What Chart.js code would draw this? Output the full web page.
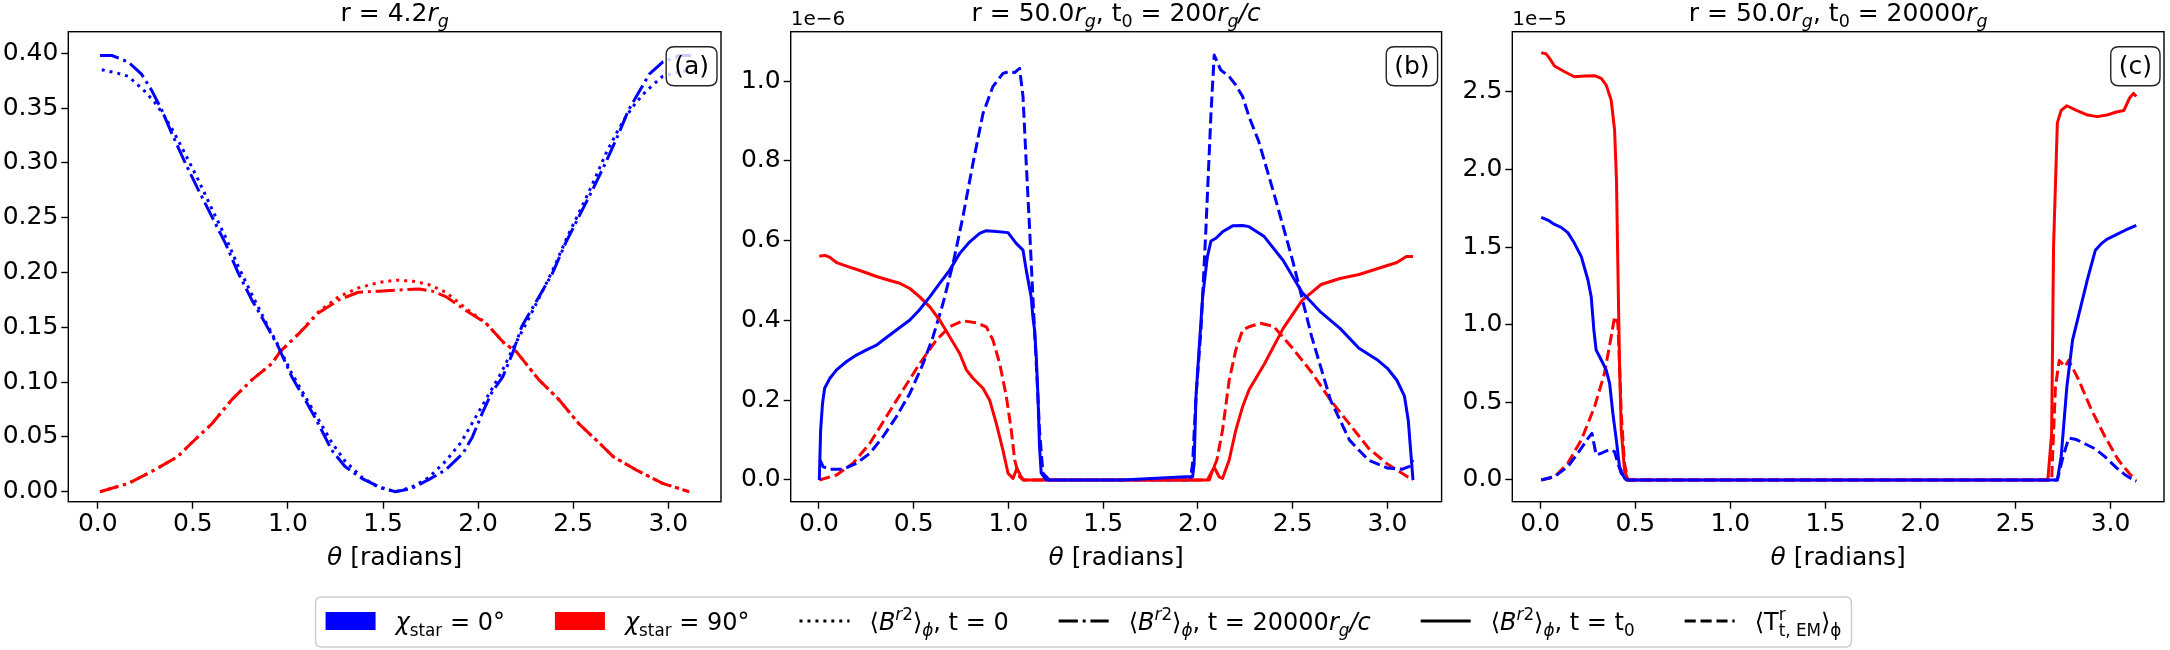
<!DOCTYPE html>
<html><head><meta charset="utf-8">
<script src="https://cdn.jsdelivr.net/npm/chart.js@4.4.1/dist/chart.umd.min.js"></script>
<style>
html,body{margin:0;padding:0;background:#fff;}
#fig{position:relative;width:2170px;height:650px;background:#fff;overflow:hidden}
#fig canvas{position:absolute;left:0;top:0;width:2170px;height:650px}
</style></head><body><div id="fig">
<canvas id="ca" width="2170" height="650"></canvas>
<canvas id="cb" width="2170" height="650"></canvas>
<canvas id="cc" width="2170" height="650"></canvas>
</div>
<script>
// ---------------- DATA ----------------
const xTicks = [0.0, 0.5, 1.0, 1.5, 2.0, 2.5, 3.0];
const aYTicks = [0.00, 0.05, 0.10, 0.15, 0.20, 0.25, 0.30, 0.35, 0.40];
const bYTicks = [0.0, 0.2, 0.4, 0.6, 0.8, 1.0];
const cYTicks = [0.0, 0.5, 1.0, 1.5, 2.0, 2.5];

// Panel (a): r = 4.2 r_g
const aBlueDotX = [0.021,0.10,0.161,0.249,0.30,0.35,0.40,0.46,0.53,0.60,0.67,0.74,0.81,0.88,0.95,1.02,1.09,1.16,1.23,1.30,1.39,1.477,1.565,1.65,1.74,1.83,1.91,1.98,2.05,2.12,2.19,2.26,2.33,2.40,2.47,2.54,2.61,2.67,2.73,2.78,2.83,2.88,2.97,3.03,3.12];
const aBlueDotY = [0.385,0.382,0.379,0.365,0.355,0.343,0.328,0.308,0.284,0.258,0.233,0.205,0.180,0.156,0.133,0.108,0.087,0.066,0.045,0.028,0.013,0.004,0.000,0.004,0.013,0.028,0.045,0.066,0.087,0.108,0.133,0.156,0.180,0.205,0.233,0.258,0.284,0.308,0.328,0.343,0.355,0.365,0.379,0.382,0.385];
const aBlueDdX = [0.012,0.074,0.161,0.23,0.284,0.337,0.389,0.46,0.53,0.60,0.67,0.74,0.81,0.88,0.95,1.02,1.09,1.16,1.23,1.30,1.39,1.477,1.565,1.65,1.74,1.83,1.92,1.97,2.02,2.07,2.13,2.18,2.23,2.31,2.39,2.46,2.53,2.60,2.67,2.74,2.79,2.85,2.90,2.97,3.06,3.12];
const aBlueDdY = [0.398,0.398,0.392,0.381,0.366,0.348,0.327,0.300,0.275,0.251,0.227,0.199,0.175,0.154,0.132,0.105,0.084,0.062,0.038,0.023,0.012,0.0046,0.000,0.003,0.011,0.020,0.035,0.050,0.071,0.090,0.105,0.126,0.151,0.175,0.199,0.227,0.251,0.275,0.300,0.327,0.348,0.366,0.381,0.392,0.398,0.398];
const aRedDotX = [0.012,0.161,0.30,0.42,0.49,0.60,0.705,0.81,0.916,0.96,1.056,1.16,1.267,1.37,1.48,1.57,1.66,1.74,1.83,1.93,2.04,2.14,2.20,2.32,2.425,2.53,2.64,2.71,2.83,2.97,3.11];
const aRedDotY = [0.000,0.0076,0.020,0.032,0.044,0.062,0.084,0.102,0.117,0.128,0.144,0.164,0.178,0.186,0.191,0.193,0.192,0.189,0.182,0.168,0.154,0.135,0.128,0.102,0.084,0.062,0.044,0.032,0.020,0.0076,0.000];
const aRedDdX = [0.012,0.161,0.30,0.42,0.49,0.60,0.705,0.81,0.916,0.96,1.056,1.16,1.267,1.37,1.477,1.58,1.69,1.76,1.83,1.93,2.04,2.14,2.20,2.32,2.425,2.53,2.64,2.71,2.83,2.97,3.11];
const aRedDdY = [0.000,0.0076,0.020,0.032,0.044,0.062,0.084,0.102,0.117,0.128,0.144,0.163,0.175,0.182,0.183,0.184,0.185,0.183,0.178,0.166,0.154,0.135,0.128,0.102,0.084,0.062,0.044,0.032,0.020,0.0076,0.000];

// Panel (b): r = 50 r_g, t0 = 200 r_g/c   (values in units of 1e-6)
const bBlueSolX = [0.002,0.009,0.019,0.03,0.058,0.093,0.146,0.198,0.251,0.304,0.339,0.409,0.48,0.53,0.585,0.637,0.69,0.743,0.796,0.848,0.883,0.936,0.998,1.041,1.077,1.094,1.12,1.129,1.138,1.147,1.156,1.164,1.173,1.20,1.60,1.937,1.972,1.98,1.99,2.007,2.025,2.05,2.069,2.095,2.13,2.183,2.236,2.27,2.35,2.45,2.55,2.65,2.75,2.85,2.95,3.00,3.05,3.09,3.11,3.125,3.135];
const bBlueSolY = [0,0.125,0.192,0.23,0.255,0.276,0.297,0.313,0.326,0.338,0.351,0.376,0.401,0.426,0.459,0.493,0.526,0.568,0.597,0.618,0.625,0.623,0.62,0.593,0.576,0.526,0.459,0.409,0.376,0.309,0.209,0.084,0.017,0,0,0.008,0.008,0.04,0.21,0.334,0.459,0.56,0.599,0.606,0.622,0.637,0.638,0.635,0.61,0.55,0.47,0.42,0.38,0.33,0.30,0.28,0.25,0.21,0.15,0.06,0];
const bBlueDashX = [0.002,0.005,0.023,0.058,0.128,0.198,0.269,0.339,0.409,0.48,0.55,0.602,0.655,0.708,0.76,0.813,0.866,0.918,0.971,1.006,1.033,1.059,1.077,1.094,1.112,1.129,1.147,1.164,1.182,1.217,1.60,1.96,1.972,1.99,2.016,2.042,2.069,2.086,2.12,2.165,2.20,2.236,2.27,2.32,2.40,2.50,2.60,2.70,2.80,2.90,3.00,3.08,3.12,3.135];
const bBlueDashY = [0.05,0.05,0.033,0.027,0.027,0.042,0.067,0.109,0.159,0.217,0.292,0.359,0.443,0.543,0.66,0.794,0.919,0.986,1.019,1.024,1.021,1.032,0.961,0.794,0.627,0.459,0.292,0.125,0.017,0,0,0,0.042,0.21,0.376,0.627,0.919,1.065,1.028,1.011,0.99,0.961,0.91,0.85,0.72,0.55,0.36,0.20,0.10,0.05,0.03,0.027,0.035,0.05];
const bRedSolX = [0.002,0.032,0.058,0.093,0.146,0.216,0.304,0.374,0.427,0.48,0.532,0.585,0.637,0.69,0.743,0.778,0.813,0.866,0.901,0.936,0.971,0.998,1.024,1.045,1.062,1.08,1.60,2.05,2.086,2.112,2.13,2.165,2.20,2.236,2.27,2.35,2.45,2.55,2.65,2.75,2.85,2.95,3.05,3.10,3.135];
const bRedSolY = [0.561,0.563,0.558,0.545,0.536,0.525,0.51,0.50,0.493,0.48,0.459,0.434,0.401,0.359,0.317,0.276,0.255,0.23,0.20,0.142,0.075,0.017,0.004,0.029,0.0125,0,0,0,0.032,0.008,0.004,0.05,0.125,0.184,0.226,0.29,0.38,0.45,0.49,0.505,0.515,0.53,0.545,0.56,0.56];
const bRedDashX = [0.002,0.093,0.18,0.269,0.356,0.444,0.532,0.62,0.69,0.76,0.83,0.883,0.918,0.954,0.989,1.015,1.033,1.045,1.059,1.077,1.60,2.06,2.078,2.10,2.13,2.165,2.20,2.236,2.27,2.33,2.40,2.50,2.60,2.70,2.80,2.90,3.00,3.10,3.135];
const bRedDashY = [0,0.0125,0.042,0.092,0.159,0.226,0.292,0.351,0.384,0.399,0.394,0.384,0.351,0.292,0.209,0.125,0.05,0.029,0.008,0,0,0,0.025,0.05,0.125,0.25,0.326,0.376,0.384,0.393,0.385,0.33,0.27,0.20,0.14,0.08,0.04,0.01,0];

// Panel (c): r = 50 r_g, t0 = 20000 r_g   (values in units of 1e-5)
const cRedSolX = [0.005,0.032,0.049,0.075,0.128,0.18,0.233,0.286,0.321,0.347,0.373,0.391,0.401,0.408,0.417,0.426,0.443,0.461,1.50,2.67,2.69,2.70,2.72,2.74,2.77,2.82,2.88,2.93,2.98,3.03,3.07,3.10,3.12,3.135];
const cRedSolY = [2.752,2.743,2.715,2.666,2.629,2.597,2.601,2.604,2.586,2.543,2.447,2.254,1.932,1.395,0.751,0.322,0.064,0,0,0,0.3,1.5,2.3,2.38,2.41,2.38,2.35,2.34,2.35,2.37,2.38,2.46,2.49,2.47];
const cBlueSolX = [0.005,0.04,0.075,0.11,0.145,0.18,0.216,0.251,0.268,0.282,0.294,0.321,0.347,0.365,0.382,0.40,0.417,0.443,0.461,1.50,2.72,2.74,2.77,2.80,2.83,2.88,2.92,2.95,2.98,3.03,3.08,3.135];
const cBlueSolY = [1.691,1.674,1.646,1.627,1.593,1.524,1.438,1.288,1.18,0.966,0.837,0.773,0.708,0.622,0.429,0.258,0.086,0.011,0,0,0,0.15,0.6,0.9,1.05,1.3,1.48,1.52,1.55,1.58,1.61,1.64];
const cBlueDashX = [0.005,0.075,0.145,0.198,0.251,0.272,0.294,0.321,0.365,0.391,0.408,0.426,0.452,1.50,2.72,2.75,2.78,2.82,2.87,2.92,2.97,3.03,3.08,3.135];
const cBlueDashY = [0,0.021,0.086,0.172,0.268,0.30,0.161,0.172,0.197,0.182,0.107,0.043,0,0,0,0.15,0.27,0.26,0.23,0.20,0.15,0.08,0.03,-0.01];
const cRedDashX = [0.005,0.075,0.145,0.216,0.286,0.338,0.373,0.391,0.408,0.417,0.426,0.443,0.461,1.50,2.69,2.71,2.73,2.76,2.78,2.83,2.90,2.97,3.04,3.10,3.135];
const cRedDashY = [0,0.02,0.107,0.258,0.472,0.687,0.923,1.052,1.009,0.751,0.429,0.107,0,0,0,0.6,0.77,0.73,0.77,0.65,0.45,0.28,0.13,0.04,0];

// ---------------- STYLE ----------------
const BLUE = '#0000ff', RED = '#ff0000';
const LW = 3;
const DOT = [3, 4.95], DASHDOT = [19.2, 4.8, 3, 4.8], DASH = [11.1, 4.8], SOLID = [];
const FAM = "'DejaVu Sans',sans-serif";
const FS = 25;

const R = t => ({t}), I = t => ({t, i:1});
const Rs = t => ({t, s:'sub'}), Is = t => ({t, i:1, s:'sub'});
const Rp = t => ({t, s:'sup'}), Ip = t => ({t, i:1, s:'sup'});

function segFont(g, size){ const s = g.s ? size*0.7 : size; return (g.i?'italic ':'') + s.toFixed(2) + 'px ' + FAM; }
function richWidth(ctx, segs, size){
  let w = 0;
  for (const g of segs){ ctx.font = segFont(g,size); const m = ctx.measureText(g.t).width; if(!g.na) w += m; }
  return w;
}
function drawRich(ctx, segs, x, y, size, align){
  const w = richWidth(ctx, segs, size);
  let cx = align==='center' ? x - w/2 : align==='right' ? x - w : x;
  ctx.textAlign='left'; ctx.textBaseline='alphabetic'; ctx.fillStyle='#000';
  for (const g of segs){
    ctx.font = segFont(g,size);
    const dy = g.s==='sub' ? size*0.24 : g.s==='sup' ? -size*0.40 : 0;
    ctx.fillText(g.t, cx, y+dy);
    if(!g.na) cx += ctx.measureText(g.t).width;
  }
  return w;
}
function roundRect(ctx,x,y,w,h,r){
  ctx.beginPath();
  ctx.moveTo(x+r,y); ctx.lineTo(x+w-r,y); ctx.quadraticCurveTo(x+w,y,x+w,y+r);
  ctx.lineTo(x+w,y+h-r); ctx.quadraticCurveTo(x+w,y+h,x+w-r,y+h);
  ctx.lineTo(x+r,y+h); ctx.quadraticCurveTo(x,y+h,x,y+h-r);
  ctx.lineTo(x,y+r); ctx.quadraticCurveTo(x,y,x+r,y); ctx.closePath();
}

const BR = [R('⟨'), I('B'), Ip('r'), Rp('2'), R('⟩'), Is('ϕ')];
const LEGEND = [
  {kind:'patch', color:BLUE, segs:[I('χ'), Rs('star'), R(' = 0°')]},
  {kind:'patch', color:RED, segs:[I('χ'), Rs('star'), R(' = 90°')]},
  {kind:'line', dash:DOT, segs:[...BR, R(', t = 0')]},
  {kind:'line', dash:DASHDOT, segs:[...BR, R(', t = 20000'), I('r'), Is('g'), I('/c')]},
  {kind:'line', dash:SOLID, segs:[...BR, R(', t = t'), Rs('0')]},
  {kind:'line', dash:DASH, segs:[R('⟨T'), {t:'r', s:'sup', na:1}, Rs('t, EM'), R('⟩'), Rs('ϕ')]},
];

function drawLegend(ctx){
  const fs = 25, tfs = 24, handle = 2*fs, pad = 0.8*fs, col = 2*fs, bpad = 0.4*fs;
  const widths = LEGEND.map(it => richWidth(ctx, it.segs, tfs));
  let total = bpad*2 + LEGEND.length*(handle+pad) + (LEGEND.length-1)*col + widths.reduce((a,b)=>a+b,0);
  const cx = 1083.5, top = 597, h = 50;
  const x0 = cx - total/2;
  ctx.save();
  roundRect(ctx, x0, top, total, h, 6);
  ctx.fillStyle='#fff'; ctx.fill();
  ctx.strokeStyle='#cccccc'; ctx.lineWidth=1.5; ctx.stroke();
  let x = x0 + bpad;
  const midY = top + h/2 - 1;
  LEGEND.forEach((it, k) => {
    if (it.kind==='patch'){
      ctx.fillStyle = it.color; ctx.fillRect(x, midY-9, handle, 18);
    } else {
      ctx.strokeStyle='#000'; ctx.lineWidth=LW; ctx.setLineDash(it.dash); ctx.lineCap='butt';
      ctx.beginPath(); ctx.moveTo(x, midY); ctx.lineTo(x+handle, midY); ctx.stroke(); ctx.setLineDash([]);
    }
    x += handle + pad;
    drawRich(ctx, it.segs, x, midY + 9, tfs, 'left');
    x += widths[k] + col;
  });
  ctx.restore();
}

const decor = {
  id:'decor',
  afterDraw(chart, args, o){
    const {ctx, chartArea:ca} = chart;
    ctx.save();
    ctx.strokeStyle='#000'; ctx.lineWidth=1.4;
    ctx.strokeRect(ca.left, ca.top, ca.right-ca.left, ca.bottom-ca.top);
    drawRich(ctx, o.title, (ca.left+ca.right)/2, 21, FS, 'center');
    drawRich(ctx, [I('θ'), R(' [radians]')], (ca.left+ca.right)/2, 565, FS, 'center');
    if (o.offset) drawRich(ctx, [R(o.offset)], ca.left, 25, 20, 'left');
    // panel label
    ctx.font = FS + 'px ' + FAM;
    const tw = ctx.measureText(o.label).width;
    const bw = tw + 16, bh = 39, bx = ca.right - 4 - bw, by = ca.top + 15;
    roundRect(ctx, bx, by, bw, bh, 8);
    ctx.fillStyle='rgba(255,255,255,0.8)'; ctx.fill();
    ctx.strokeStyle='#222'; ctx.lineWidth=1.4; ctx.stroke();
    ctx.fillStyle='#000'; ctx.textAlign='center'; ctx.textBaseline='middle';
    ctx.fillText(o.label, bx + bw/2, by + bh/2 + 1);
    if (o.legend) drawLegend(ctx);
    ctx.restore();
  }
};

function ds(xs, ys, color, dash){
  return { data: xs.map((x,i)=>({x, y:ys[i]})), borderColor:color, backgroundColor:color,
    borderWidth:LW, borderDash:dash, borderCapStyle:'butt', borderJoinStyle:'round',
    pointRadius:0, showLine:true, tension:0, fill:false };
}

function makeChart(id, datasets, xr, yr, yTicks, yDec, area, deco){
  const YW = 68, XH = 45;
  return new Chart(document.getElementById(id), {
    type:'scatter',
    data:{datasets},
    plugins:[decor],
    options:{
      responsive:false, animation:false, devicePixelRatio:1,
      layout:{padding:{left: area.l - YW, right: 2170 - area.r, top: area.t, bottom: 650 - area.b - XH}},
      plugins:{legend:{display:false}, tooltip:{enabled:false}, title:{display:false}, decor:deco},
      scales:{
        x:{type:'linear', min:xr[0], max:xr[1],
          afterBuildTicks: s => { s.ticks = xTicks.map(v=>({value:v})); },
          afterFit: s => { s.height = XH; },
          grid:{drawOnChartArea:false, drawTicks:true, tickLength:7, tickWidth:1.4, tickColor:'#000'},
          border:{display:false},
          ticks:{color:'#000', font:{family:FAM, size:FS}, padding:1, maxRotation:0, autoSkip:false,
            callback: v => v.toFixed(1)}},
        y:{type:'linear', min:yr[0], max:yr[1],
          afterBuildTicks: s => { s.ticks = yTicks.map(v=>({value:v})); },
          afterFit: s => { s.width = YW; },
          grid:{drawOnChartArea:false, drawTicks:true, tickLength:7, tickWidth:1.4, tickColor:'#000'},
          border:{display:false},
          ticks:{color:'#000', font:{family:FAM, size:FS}, padding:3, autoSkip:false,
            callback: v => v.toFixed(yDec)}}
      }
    }
  });
}

makeChart('ca', [
  ds(aBlueDotX, aBlueDotY, BLUE, DOT),
  ds(aBlueDdX, aBlueDdY, BLUE, DASHDOT),
  ds(aRedDotX, aRedDotY, RED, DOT),
  ds(aRedDdX, aRedDdY, RED, DASHDOT)
], [-0.155, 3.277], [-0.0091, 0.4197], aYTicks, 2, {l:68.3, r:721, t:31.7, b:501.7},
 {title:[R('r = 4.2'), I('r'), Is('g')], label:'(a)'});

makeChart('cb', [
  ds(bBlueSolX, bBlueSolY, BLUE, SOLID),
  ds(bRedSolX, bRedSolY, RED, SOLID),
  ds(bBlueDashX, bBlueDashY, BLUE, DASH),
  ds(bRedDashX, bRedDashY, RED, DASH)
], [-0.149, 3.286], [-0.0544, 1.1236], bYTicks, 1, {l:790.7, r:1441.6, t:31.7, b:501.7},
 {title:[R('r = 50.0'), I('r'), Is('g'), R(', t'), Rs('0'), R(' = 200'), I('r'), Is('g'), I('/c')], label:'(b)', offset:'1e−6', legend:true});

makeChart('cc', [
  ds(cBlueSolX, cBlueSolY, BLUE, SOLID),
  ds(cRedSolX, cRedSolY, RED, SOLID),
  ds(cBlueDashX, cBlueDashY, BLUE, DASH),
  ds(cRedDashX, cRedDashY, RED, DASH)
], [-0.147, 3.281], [-0.140, 2.887], cYTicks, 1, {l:1512.3, r:2164, t:31.7, b:501.7},
 {title:[R('r = 50.0'), I('r'), Is('g'), R(', t'), Rs('0'), R(' = 20000'), I('r'), Is('g')], label:'(c)', offset:'1e−5'});
</script></body></html>
